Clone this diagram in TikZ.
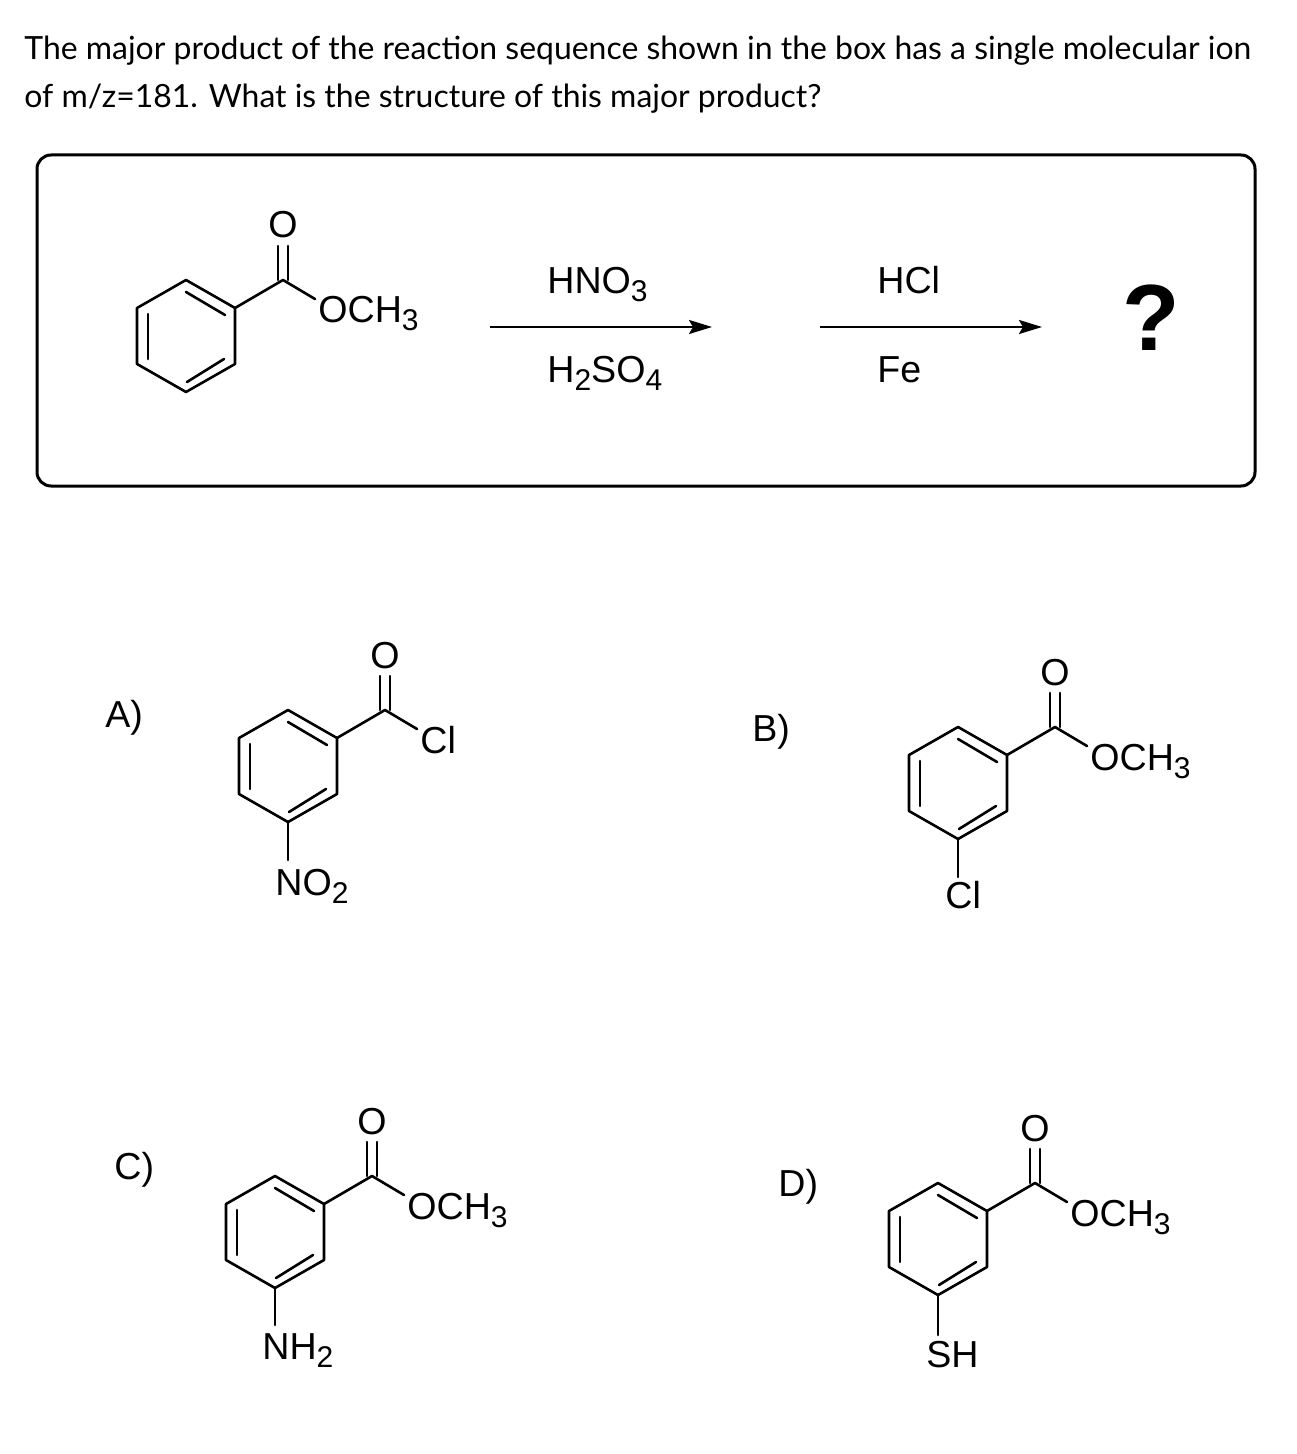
\documentclass[tikz,border=0pt]{standalone}
\usepackage{fontspec}
\setmainfont{Liberation Sans}
\newfontfamily\latofont{Lato}
\usetikzlibrary{arrows.meta}
\newcommand{\lowsub}[1]{\raisebox{-4pt}{\fontsize{15}{15}\selectfont #1}}
\tikzset{
 bond/.style={line width=1.3pt,line cap=round,line join=round},
 chem/.style={anchor=base west,inner sep=0pt,font=\fontsize{18.8}{22}\selectfont},
 oxy/.style={chem,anchor=base},
 prose/.style={anchor=base west,inner sep=0pt,font=\latofont\fontsize{15.97}{20}\selectfont},
 rxn/.style={line width=1.2pt,-{Stealth[length=11.5pt,width=7pt,inset=2pt]}}
}
% ring and carbonyl, #1 names, (#2,#3) is the top of the ring, #4 is the group on the ester
\newcommand{\benzoyl}[4]{
 \begin{scope}[shift={(#2,#3)}]
 \coordinate (#1a) at (0,0);
 \coordinate (#1b) at (49,28);
 \coordinate (#1c) at (49,84);
 \coordinate (#1d) at (0,112);
 \coordinate (#1e) at (-49,84);
 \coordinate (#1f) at (-49,28);
 \coordinate (#1k) at (97,0);
 \coordinate (#1r) at (129,19);
 \draw[bond] (#1a) -- (#1b) -- (#1c) -- (#1d) -- (#1e) -- (#1f) -- cycle;
 %
 \draw[bond] (0,12) -- (39,35);
 \draw[bond] (38,79) -- (1,102);
 \draw[bond] (-38,34) -- (-38,79);
 %
 \draw[bond] (#1b) -- (#1k) -- (#1r);
 \draw[bond] (92,-34) -- (92,0);
 \draw[bond] (102,-34) -- (102,0);
 \node[oxy] (#1o) at (97,-42) {O};
 \node[chem] (#1g) at (132,43) {#4};
 \end{scope}
}
\begin{document}
\begin{tikzpicture}[x=0.5pt,y=-0.5pt]
 \useasboundingbox (0,0) rectangle (1296,1454);
 \node[prose] (line1) at (24,60) {The major product of the reaction sequence shown in the box has a single molecular ion};
 \node[prose] (line2) at (24,108) {of m/z=181. What is the structure of this major product?};
 \draw[line width=1.5pt,rounded corners=7pt] (37,155) rectangle (1255,486);
 %
 \benzoyl{top}{186}{280}{OCH\lowsub{3}}
 %
 \coordinate (in1) at (490,327);
 \coordinate (out1) at (712,327);
 \coordinate (in2) at (820,327);
 \coordinate (out2) at (1042,327);
 \draw[rxn] (in1) -- (out1);
 \draw[rxn] (in2) -- (out2);
 \node[chem] (hno) at (547,294) {HNO\lowsub{3}};
 \node[chem] (hso) at (547,383) {H\lowsub{2}SO\lowsub{4}};
 \node[chem] (hcl) at (877,294) {HCl};
 \node[chem] (fe) at (877,383) {Fe};
 \node[anchor=base west,inner sep=0pt,font=\bfseries\fontsize{47}{50}\selectfont] (what) at (1122,351) {?};
 %
 \node[chem] (optA) at (105,727) {A)};
 \benzoyl{A}{288}{710}{Cl}
 \coordinate (Aout) at (288,860);
 \draw[bond] (Ad) -- (Aout);
 \node[chem] (no) at (275,895) {NO\lowsub{2}};
 %
 \node[chem] (optB) at (752,741) {B)};
 \benzoyl{B}{958}{727}{OCH\lowsub{3}}
 \coordinate (Bout) at (958,877);
 \draw[bond] (Bd) -- (Bout);
 \node[chem] (cl) at (945,908) {Cl};
 %
 \node[chem] (optC) at (114,1179) {C)};
 \benzoyl{C}{275}{1176}{OCH\lowsub{3}}
 \coordinate (Cout) at (275,1325);
 \draw[bond] (Cd) -- (Cout);
 \node[chem] (nh) at (262,1359) {NH\lowsub{2}};
 %
 \node[chem] (optD) at (778,1196) {D)};
 \benzoyl{D}{938}{1183}{OCH\lowsub{3}}
 \coordinate (Dout) at (938,1335);
 \draw[bond] (Dd) -- (Dout);
 \node[chem] (sh) at (926,1367) {SH};
\end{tikzpicture}
\end{document}
